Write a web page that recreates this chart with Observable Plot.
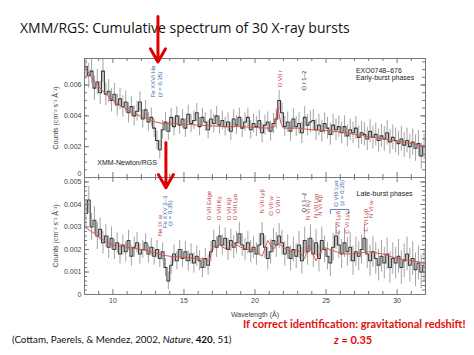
<!DOCTYPE html>
<html><head><meta charset="utf-8">
<script src="https://cdn.jsdelivr.net/npm/d3@7"></script>
<script src="https://cdn.jsdelivr.net/npm/@observablehq/plot@0.6"></script>
<style>
body{margin:0;background:#fff;}
#wrap{position:relative;width:474px;height:355px;overflow:hidden;font-family:"Open Sans",Lato,sans-serif;background:#fff;}
#title{position:absolute;left:20px;top:20px;font-size:14px;line-height:16px;color:#111;white-space:nowrap;}
#top,#bot{position:absolute;left:0;}
#top{top:0;} #bot{top:170px;}
#note{position:absolute;left:243px;top:317px;font-size:11px;font-weight:bold;color:#e01010;white-space:nowrap;line-height:13px;font-family:Lato,sans-serif;}
#z{position:absolute;left:334px;top:333px;font-size:11px;font-weight:bold;color:#e01010;white-space:nowrap;line-height:13px;font-family:Lato,sans-serif;}
#cite{position:absolute;left:12px;top:333px;font-size:9.8px;color:#111;white-space:nowrap;line-height:13px;font-family:Lato,sans-serif;}
svg{overflow:visible;}
</style></head>
<body><div id="wrap">
<div id="title">XMM/RGS: Cumulative spectrum of 30 X-ray bursts</div>
<div id="top"></div><div id="bot"></div>
<div id="note">If correct identification: gravitational redshift!</div>
<div id="z"><i>z</i> = 0.35</div>
<div id="cite">(Cottam, Paerels, &amp; Mendez, 2002, <i>Nature</i>, <b>420</b>, 51)</div>
</div>
<script>
// ---- data (counts in units of 1e-3 cm^-2 s^-1 Å^-1), 0.2 Å bins from 8.0 to 32.0 ----
const binStart = 8.0, binWidth = 0.2;
const earlyCounts = [
7.2,6.6,6.9,5.8,6.2,5.5,6.9,5.4,5.6,5.0,
5.4,4.7,5.1,4.6,4.9,4.2,4.6,4.0,4.3,4.9,
3.8,4.4,3.6,3.9,3.2,2.4,1.8,3.1,3.6,3.0,
3.9,3.3,4.0,3.4,3.8,3.2,4.1,3.5,3.7,4.2,
3.3,3.9,3.6,3.1,3.8,3.5,4.0,3.4,3.7,3.3,
3.6,3.0,3.8,3.4,3.9,3.2,3.6,3.9,3.1,3.5,
3.3,3.7,2.9,3.4,3.6,3.0,3.5,3.8,5.0,4.2,
3.3,3.6,3.0,3.8,3.3,3.5,2.9,3.9,3.4,3.6,
3.7,3.1,3.4,3.0,3.5,3.2,2.8,3.4,3.1,3.3,
2.9,3.3,2.7,3.1,2.9,3.2,2.6,2.9,2.8,2.5,
3.0,2.6,2.8,2.4,2.7,2.5,2.9,2.3,2.6,2.4,
2.2,2.5,2.1,2.4,2.0,2.3,1.9,2.2,1.4,2.0];
const lateCounts = [
3.6,4.2,3.0,3.3,2.6,2.9,2.3,2.6,2.1,2.5,
2.0,2.3,1.8,2.2,1.9,2.4,1.7,2.1,2.3,1.8,
2.0,2.3,1.8,2.1,1.7,2.0,1.6,1.9,1.2,0.6,
1.3,1.8,1.5,2.0,1.6,1.9,1.5,1.8,1.4,1.7,
1.5,1.2,1.6,1.3,1.9,2.4,2.1,2.6,2.2,2.5,
2.0,2.4,2.1,2.3,2.7,2.2,2.0,2.3,1.9,2.1,
1.8,2.2,2.7,2.1,1.6,1.9,2.4,2.2,2.6,2.3,
1.8,2.1,1.6,2.0,1.7,2.2,1.5,2.4,1.9,2.5,
1.8,2.3,1.6,2.4,2.0,1.7,1.4,2.1,2.6,2.2,
1.8,2.3,1.9,2.1,1.5,1.9,1.7,2.0,2.5,1.8,
1.5,1.9,1.6,1.3,1.7,1.4,1.8,1.2,1.6,1.4,
1.7,1.2,1.5,1.8,1.3,1.6,1.1,1.4,1.0,1.3];
// 1-sigma error per 1 Å segment (8–9, 9–10, ... 31–32)
const earlyErr = [0.8,0.75,0.7,0.65,0.6,0.6,0.6,0.6,0.6,0.6,0.6,0.6,0.65,0.65,0.65,0.7,0.7,0.7,0.7,0.75,0.75,0.8,0.8,0.85];
const lateErr  = [0.6,0.5,0.45,0.45,0.4,0.4,0.4,0.45,0.45,0.45,0.5,0.5,0.5,0.55,0.55,0.6,0.6,0.6,0.65,0.65,0.7,0.7,0.75,0.75];
// model curves (red)
const earlyModelLam = [8,8.5,9,9.5,10,10.5,11,11.5,12,12.5,13,13.5,14,15,16,17,18,19,20,21,21.4,21.6,21.8,22,23,24,25,26,27,28,29,30,31,32];
const earlyModelVal = [7.2,6.5,5.9,5.4,5.0,4.7,4.4,4.15,3.95,3.8,3.6,3.5,3.5,3.45,3.4,3.35,3.3,3.3,3.25,3.2,3.3,4.6,3.6,3.2,3.2,3.1,3.05,2.95,2.8,2.65,2.5,2.35,2.2,2.05];
const lateModelLam = [8,8.5,9,9.5,10,11,12,13,13.5,14,15,16,16.5,16.8,17,17.5,18,18.5,19,19.5,20,20.5,20.9,21.3,21.6,22,22.5,23,23.5,23.8,24.3,24.8,25.3,25.7,26.4,27,28,29,30,31,32];
const lateModelVal = [3.0,2.8,2.55,2.35,2.2,2.1,2.0,1.85,1.75,1.7,1.65,1.6,1.55,1.5,2.1,2.2,2.0,2.3,2.1,2.0,2.0,1.7,2.4,2.0,2.3,2.1,1.9,2.0,1.6,2.2,1.5,2.1,2.0,1.9,1.8,1.8,1.9,1.8,1.6,1.5,1.4];
// line identifications
const earlyLabels = ["Fe XXVI Hα","(z = 0.35)","O VII r","O I 1–2"];
const earlyLabelLam = [12.85,13.35,21.75,23.45];
const earlyLabelY = [5.2,5.2,5.85,5.65];
const earlyLabelColor = ["#2f5fa8","#2f5fa8","#c23a3a","#222"];
const lateLabels = ["Ne IX w","Fe XXV 2–3","(z = 0.35)","O VII Edge","O VIII Kγ","O VII Kβ","O VIII Lyα","N VII Lyβ","O VII w","O VII r","O I 1–2","N VI Kγ","N VII Lyα","N VI Kβ","O VIII Lyα","(z = 0.35)","C VI Lyδ","C VI Lyγ","C VI Lyβ","N VI w"];
const lateLabelLam = [13.35,13.65,14.0,16.75,17.45,18.2,18.6,20.5,21.15,21.6,23.45,23.75,24.3,24.6,25.7,26.1,25.85,26.45,27.8,28.2];
const lateLabelY = [2.6,2.95,3.05,3.3,3.3,3.3,3.3,3.6,3.5,3.6,3.65,3.3,3.4,3.5,3.9,3.95,2.7,2.7,2.8,3.4];
const lateLabelColor = ["#c23a3a","#2f5fa8","#2f5fa8","#c23a3a","#c23a3a","#c23a3a","#c23a3a","#c23a3a","#c23a3a","#c23a3a","#222","#c23a3a","#c23a3a","#c23a3a","#2f5fa8","#2f5fa8","#c23a3a","#c23a3a","#c23a3a","#c23a3a"];
const bracketLam = [25.3,25.3,26.6,26.6];
const bracketVal = [3.6,3.78,3.78,3.6];
// red arrows marking Fe lines at z = 0.35
const arrowLam = [13.17, 13.73];
const arrowFrom = [10.45, 6.76];
const arrowTo = [7.5, 4.75];

const S = 1e-3;
function bins(counts, errs){
  return counts.map((v,i)=>{const lam = binStart + binWidth*(i+0.5); return {lam, v:v*S, e:errs[Math.floor(lam-8)]*S};});
}
const zip = (a,b)=>a.map((x,i)=>({lam:x, v:b[i]*S}));
const labels = (n,l,y,c)=>n.map((t,i)=>({t, lam:l[i], y:y[i]*S, c:c[i]}));
const fmt = d=>d===0?"0":d3.format(".3f")(d);

function panel({counts, errs, mLam, mVal, labs, yMax, yTicks, yMinor, height, mt, mb, extra, xAxis, zeroDy}){
  const fh = height-mt-mb, fw = 474-84-49;
  const data = bins(counts, errs);
  const xt = d3.range(8,33);
  const majors = xt.filter(d=>d%5===0), minors = xt.filter(d=>d%5!==0);
  const axisOpts = {tickSize:0, tickPadding:3, fontSize:7, color:"#444", tickFormat:fmt};
  return Plot.plot({
    width:474, height, marginLeft:84, marginRight:49, marginTop:mt, marginBottom:mb,
    style:{background:"transparent", overflow:"visible", fontFamily:"'Liberation Sans',Arial,sans-serif"},
    x:{domain:[8,32], axis:null},
    y:{domain:[0,yMax], axis:null},
    marks:[
      Plot.ruleX(data,{x:"lam", y1:d=>Math.max(0,d.v-d.e), y2:d=>Math.min(yMax,d.v+d.e), stroke:"#a3a3a3", strokeWidth:1}),
      Plot.line(data,{x:"lam", y:"v", curve:"step", stroke:"#3a3a3a", strokeWidth:1.1}),
      Plot.line(zip(mLam,mVal),{x:"lam", y:"v", stroke:"#d9534f", strokeWidth:1}),
      Plot.text(labs,{x:"lam", y:"y", text:"t", fill:"c", rotate:-90, textAnchor:"start", fontSize:6}),
      Plot.frame({stroke:"#777"}),
      Plot.ruleX(minors,{x:d=>d, insetTop:fh-3, stroke:"#777"}),
      Plot.ruleX(majors,{x:d=>d, insetTop:fh-5, stroke:"#777"}),
      Plot.ruleX(minors,{x:d=>d, insetBottom:fh-3, stroke:"#777"}),
      Plot.ruleX(majors,{x:d=>d, insetBottom:fh-5, stroke:"#777"}),
      Plot.ruleY(yMinor,{y:d=>d, insetRight:fw-3, stroke:"#777"}),
      Plot.ruleY(yTicks,{y:d=>d, insetRight:fw-5, stroke:"#777"}),
      Plot.ruleY(yMinor,{y:d=>d, insetLeft:fw-3, stroke:"#777"}),
      Plot.ruleY(yTicks,{y:d=>d, insetLeft:fw-5, stroke:"#777"}),
      Plot.axisY({...axisOpts, ticks:yTicks.filter(d=>d!==0),
        label:"Counts (cm⁻² s⁻¹ Å⁻¹)", labelAnchor:"center", labelOffset:31, labelArrow:false}),
      Plot.axisY({...axisOpts, ticks:[0], label:null, dy:zeroDy}),
      ...(xAxis ? [Plot.axisX({ticks:[10,15,20,25,30], tickSize:0, tickPadding:4, fontSize:7, color:"#444",
        label:"Wavelength (Å)", labelAnchor:"center", labelOffset:22, labelArrow:false})] : []),
      ...extra
    ]
  });
}

const arrows = arrowLam.map((l,i)=>({lam:l, a:arrowFrom[i]*S, b:arrowTo[i]*S}));

const topPlot = panel({
  counts:earlyCounts, errs:earlyErr, mLam:earlyModelLam, mVal:earlyModelVal,
  labs:labels(earlyLabels,earlyLabelLam,earlyLabelY,earlyLabelColor),
  yMax:0.00772, yTicks:[0,0.002,0.004,0.006], yMinor:d3.range(0,0.0077,0.0005),
  height:178, mt:58, mb:1, xAxis:false, zeroDy:-4,
  extra:[
    Plot.text(["EXO0748–676\nEarly-burst phases"],{x:[27.1], y:[0.00708], text:d=>d, textAnchor:"start", lineAnchor:"top", fontSize:7, fill:"#222"}),
    Plot.text(["XMM-Newton/RGS"],{x:[8.9], y:[0.00097], text:d=>d, textAnchor:"start", fontSize:7, fill:"#222"}),
    Plot.arrow([arrows[0]],{x:"lam", y1:"a", y2:"b", stroke:"#e00000", strokeWidth:3, headLength:10, bend:0})
  ]
});
document.getElementById("top").appendChild(topPlot);

const bracket = zip(bracketLam, bracketVal);
const botPlot = panel({
  counts:lateCounts, errs:lateErr, mLam:lateModelLam, mVal:lateModelVal,
  labs:labels(lateLabels,lateLabelLam,lateLabelY,lateLabelColor),
  yMax:0.0052, yTicks:[0,0.001,0.002,0.003,0.004,0.005], yMinor:d3.range(0,0.0052,0.0002),
  height:160, mt:7, mb:36, xAxis:true, zeroDy:0,
  extra:[
    Plot.text(["Late-burst phases"],{x:[27.15], y:[0.00449], text:d=>d, textAnchor:"start", fontSize:7, fill:"#222"}),
    Plot.line(bracket,{x:"lam", y:"v", stroke:"#2f5fa8", strokeWidth:0.8}),
    Plot.arrow([arrows[1]],{x:"lam", y1:"a", y2:"b", stroke:"#e00000", strokeWidth:3, headLength:10, bend:0})
  ]
});
document.getElementById("bot").appendChild(botPlot);
</script>
</body></html>
